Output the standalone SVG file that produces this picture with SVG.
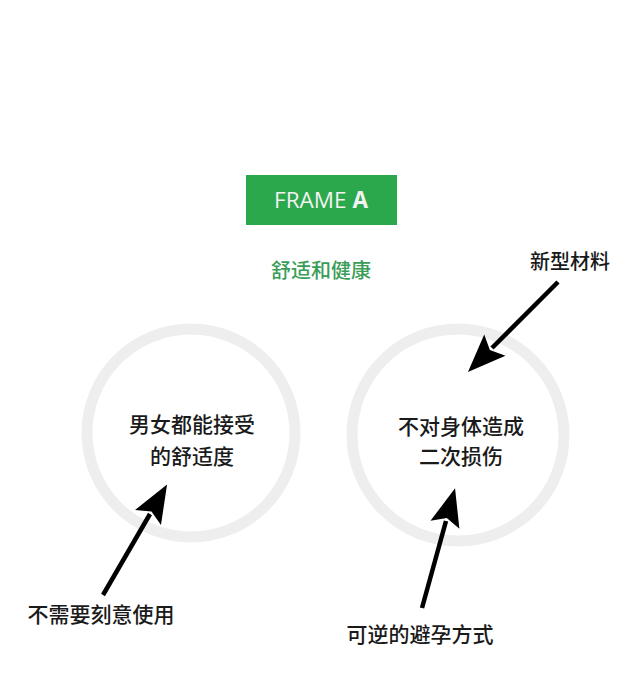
<svg xmlns="http://www.w3.org/2000/svg" width="640" height="699" viewBox="0 0 640 699">
<style>
.cjk{font-family:"Noto Sans CJK SC","Noto Sans",sans-serif;fill:#1a1a1a;text-anchor:middle;font-weight:500}
.ring{fill:none;stroke:#eeeeee;stroke-width:11}
.arrow{stroke:#000;stroke-width:4.5;fill:none}
</style>
<defs>
<marker id="ah" markerUnits="userSpaceOnUse" markerWidth="60" markerHeight="60" refX="0" refY="0" orient="auto" overflow="visible" viewBox="-10 -30 60 60">
<path d="M34,0 L-4,-15 L3,0 L-4,15 Z" fill="#000"/>
</marker>
</defs>
<rect width="640" height="699" fill="#fff"/>
<g id="frame-a">
<rect x="246" y="175" width="151" height="50" fill="#2ba84c"/>
<text x="321" y="208" font-family="'Open Sans','Liberation Sans',sans-serif" font-size="22.5" fill="#f2f2f2" text-anchor="middle">FRAME <tspan font-weight="bold">A</tspan></text>
</g>
<g id="subtitle">
<text x="321" y="278" class="cjk" font-size="20" style="fill:#3a9d57">舒适和健康</text>
</g>
<g id="circle-left">
<circle cx="191" cy="433" r="104" class="ring"/>
<text x="192" y="432" class="cjk" font-size="21">男女都能接受</text>
<text x="192" y="464" class="cjk" font-size="21">的舒适度</text>
</g>
<g id="circle-right">
<circle cx="458" cy="435" r="106" class="ring"/>
<text x="461" y="434" class="cjk" font-size="21">不对身体造成</text>
<text x="461" y="464" class="cjk" font-size="21">二次损伤</text>
</g>
<g id="label-new-material">
<text x="570" y="269" class="cjk" font-size="20">新型材料</text>
</g>
<g id="label-no-deliberate">
<text x="101" y="622" class="cjk" font-size="21">不需要刻意使用</text>
</g>
<g id="label-reversible">
<text x="420" y="642" class="cjk" font-size="21">可逆的避孕方式</text>
</g>
<g id="connectors">
<line x1="558" y1="282" x2="492" y2="348" class="arrow" marker-end="url(#ah)"/>
<line x1="103" y1="595" x2="150" y2="514" class="arrow" marker-end="url(#ah)"/>
<line x1="422" y1="608" x2="446" y2="521" class="arrow" marker-end="url(#ah)"/>
</g>
</svg>
